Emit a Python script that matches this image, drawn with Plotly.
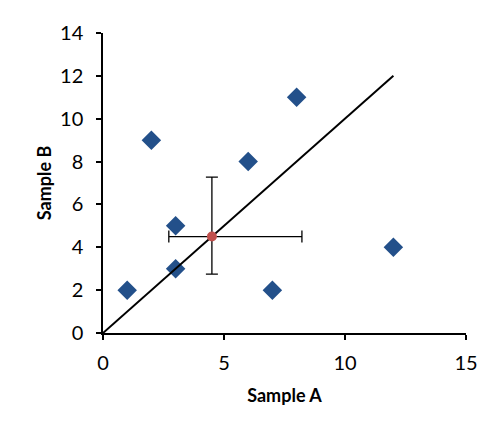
import plotly.graph_objects as go

sample_a = [1, 2, 3, 3, 6, 7, 8, 12]
sample_b = [2, 9, 5, 3, 8, 2, 11, 4]

line_x = [0, 12]
line_y = [0, 12]

center_x = [4.5]
center_y = [4.5]
err_x_plus = [3.72]
err_x_minus = [1.78]
err_y_plus = [2.77]
err_y_minus = [1.75]

font = "Lato, 'Open Sans', sans-serif"

fig = go.Figure()
fig.add_trace(go.Scatter(
    x=sample_a, y=sample_b, mode="markers",
    marker=dict(symbol="diamond", size=15, color="#23508A"),
    showlegend=False, cliponaxis=False))
fig.add_trace(go.Scatter(
    x=line_x, y=line_y, mode="lines",
    line=dict(color="black", width=2),
    showlegend=False, cliponaxis=False))
fig.add_trace(go.Scatter(
    x=center_x, y=center_y, mode="markers",
    marker=dict(symbol="circle", size=10, color="#C0504D"),
    error_x=dict(type="data", symmetric=False, array=err_x_plus,
                 arrayminus=err_x_minus, color="black", thickness=1.3, width=6),
    error_y=dict(type="data", symmetric=False, array=err_y_plus,
                 arrayminus=err_y_minus, color="black", thickness=1.3, width=6),
    showlegend=False, cliponaxis=False))

axis_common = dict(
    showgrid=False, zeroline=False, showline=True, linecolor="black",
    linewidth=1.5, ticks="outside", ticklen=5, tickwidth=1.5,
    tickcolor="black", tickfont=dict(family=font, size=20, color="black"),
)

fig.update_layout(
    width=494, height=426,
    margin=dict(l=95, r=36, t=21, b=101),
    plot_bgcolor="white", paper_bgcolor="white",
    xaxis=dict(range=[0, 15], dtick=5, tick0=0, ticklabelstandoff=6,
               title=dict(text="<b>Sample A</b>", standoff=17,
                          font=dict(family=font, size=18, color="black")),
               **axis_common),
    yaxis=dict(range=[0, 14], dtick=2, tick0=0, ticklabelstandoff=9,
               title=dict(text="<b>Sample B</b>", standoff=4,
                          font=dict(family=font, size=18, color="black")),
               **axis_common),
)

fig.write_html("out.html")
